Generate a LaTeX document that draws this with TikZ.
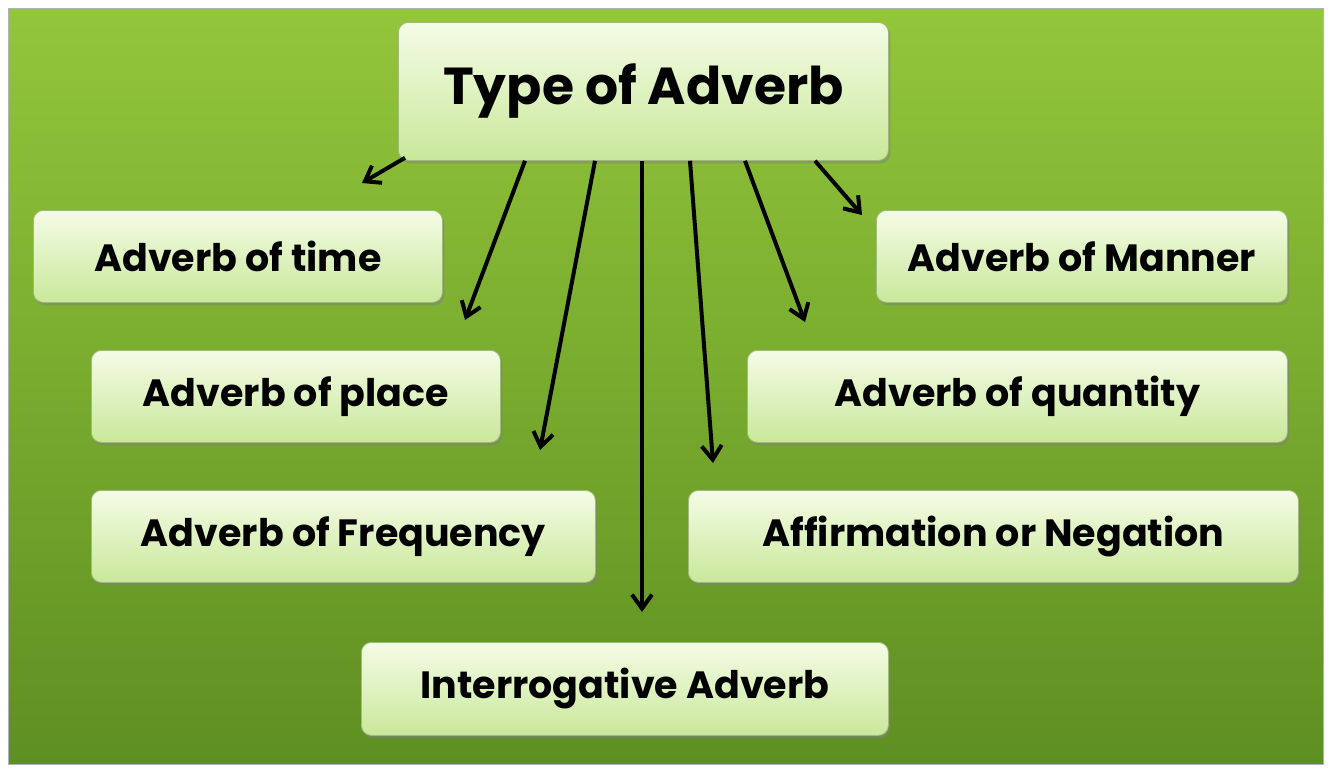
\documentclass[tikz,border=0pt]{standalone}
\usepackage{fontspec}
\setmainfont{Poppins}
\usetikzlibrary{shadows,arrows.meta}
\definecolor{bgtop}{HTML}{93C63B}
\definecolor{bgbot}{HTML}{5E8F22}
\definecolor{boxtop}{HTML}{F4FCE6}
\definecolor{boxbot}{HTML}{C9E89A}
\tikzset{
  box/.style={draw=boxbot!80!black, line width=0.8pt, rounded corners=10pt, top color=boxtop, bottom color=boxbot,
    drop shadow={shadow xshift=2pt, shadow yshift=-3pt, opacity=0.5}, anchor=north west, inner sep=0pt, font=\fontsize{38}{40}\selectfont\bfseries},
  arr/.style={-{Straight Barb[length=14pt,width=20pt]}, line width=4pt, black}
}
\begin{document}
\begin{tikzpicture}[x=1pt,y=-1pt]
\useasboundingbox (0,0) rectangle (1331,772);
\fill[white] (0,0) rectangle (1331,772);
\shade[top color=bgtop, bottom color=bgbot, draw=gray!60] (8,8) rectangle (1323,764);
\node[box, minimum width=490, minimum height=138, font=\fontsize{52}{54}\selectfont\bfseries] (title) at (398,22) {Type of Adverb};
\node[box, minimum width=409, minimum height=92] (time) at (33,210) {Adverb of time};
\node[box, minimum width=409, minimum height=92] (place) at (91,350) {Adverb of place};
\node[box, minimum width=504, minimum height=92] (freq) at (91,490) {Adverb of Frequency};
\node[box, minimum width=527, minimum height=93] (inter) at (361,642) {Interrogative Adverb};
\node[box, minimum width=411, minimum height=92] (manner) at (876,210) {Adverb of Manner};
\node[box, minimum width=540, minimum height=92] (quant) at (747,350) {Adverb of quantity};
\node[box, minimum width=610, minimum height=92] (affirm) at (688,490) {Affirmation or Negation};
\coordinate (e1) at (362,183);
\coordinate (e2) at (465,320);
\coordinate (e3) at (540,450);
\coordinate (e4) at (642,612);
\coordinate (e5) at (713,463);
\coordinate (e6) at (805,322);
\coordinate (e7) at (862,215);
\draw[arr] (title.south west)++(7,-3) -- (e1);
\draw[arr] ([xshift=127]title.south west) -- (e2);
\draw[arr] ([xshift=197]title.south west) -- (e3);
\draw[arr] ([xshift=244]title.south west) -- (e4);
\draw[arr] ([xshift=292]title.south west) -- (e5);
\draw[arr] ([xshift=347]title.south west) -- (e6);
\draw[arr] ([xshift=417]title.south west) -- (e7);
\end{tikzpicture}
\end{document}
